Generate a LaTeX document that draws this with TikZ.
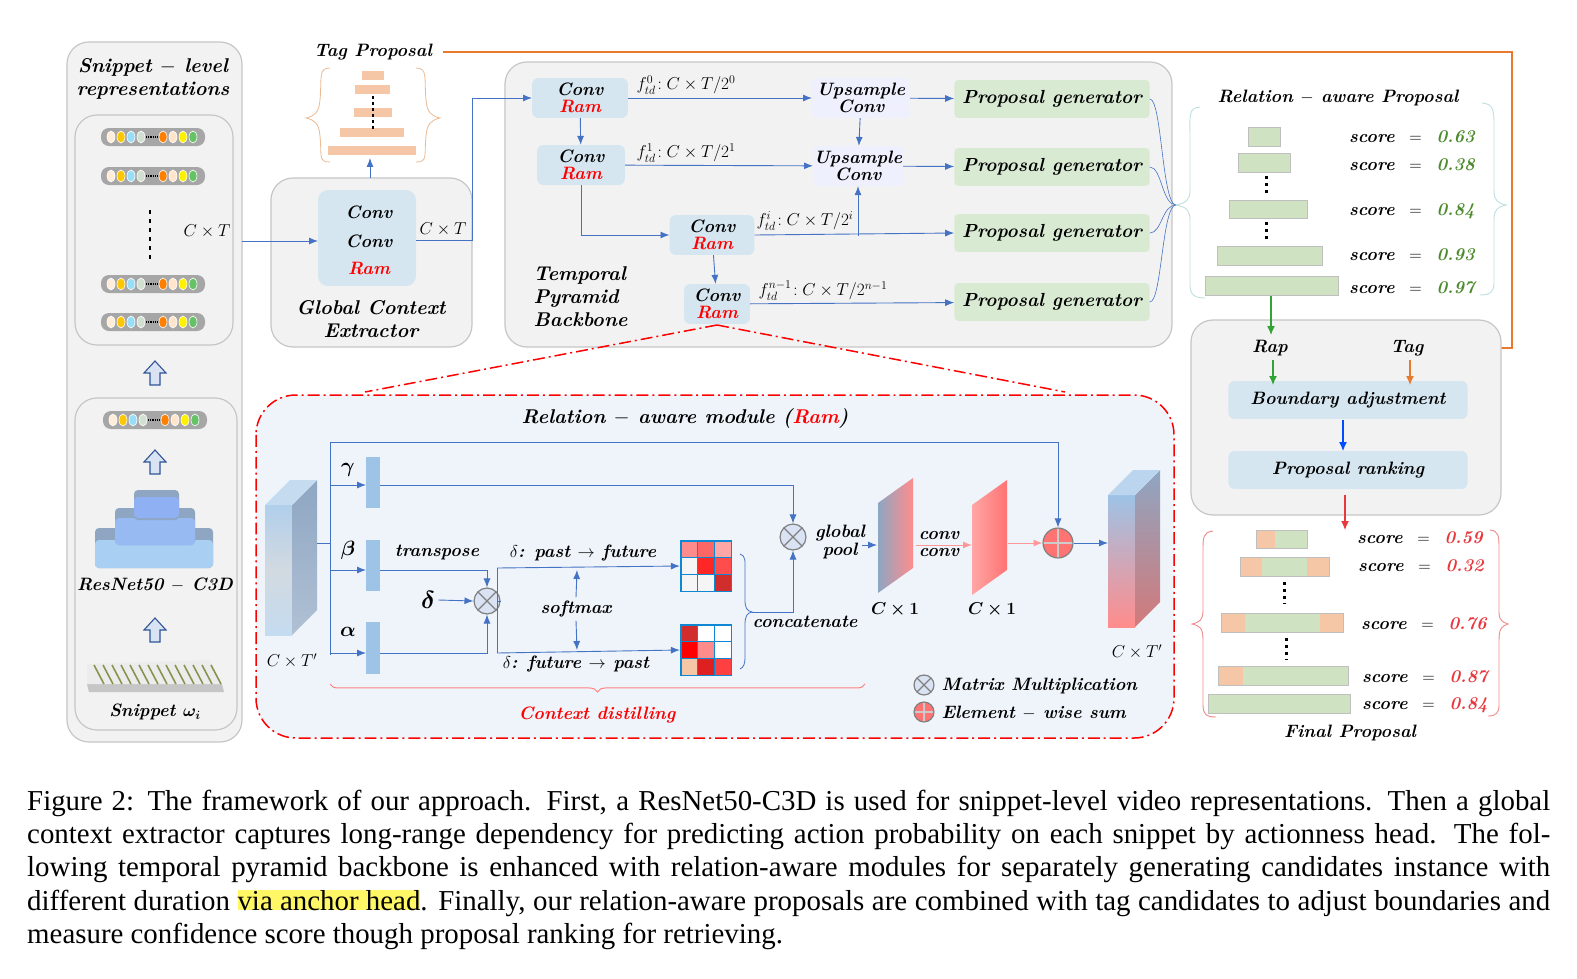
\documentclass[tikz,border=0pt]{standalone}
\usepackage{fontspec}
\usepackage{amsmath,bm}
\newfontfamily\capfont{Liberation Serif}
\usetikzlibrary{arrows.meta,decorations.pathreplacing,calc}
\definecolor{blk}{HTML}{D5E6F0}
\definecolor{pg}{HTML}{D9EAD3}
\definecolor{gbar}{HTML}{CFE3C2}
\definecolor{obar}{HTML}{F5C7A6}
\definecolor{ln}{HTML}{4472C4}
\definecolor{sgreen}{HTML}{4E8B2E}
\definecolor{sred}{HTML}{E8383D}
\definecolor{org}{HTML}{E87A2E}
\definecolor{panel}{HTML}{F2F2F2}
\definecolor{modbg}{HTML}{EEF4FA}
\definecolor{lbar}{HTML}{9DC3E6}
\definecolor{rn}{HTML}{A9CFF2}
\definecolor{rnd}{HTML}{8EA6C2}
\definecolor{harr}{HTML}{DAE3F3}
\definecolor{harrd}{HTML}{2F5597}
\tikzset{
 lbl/.style={font=\fontsize{20}{23}\selectfont\bfseries\itshape},
 sm/.style={font=\fontsize{18}{20}\selectfont\bfseries\itshape},
 panelbox/.style={draw=gray!45,line width=1.2,fill=panel,rounded corners=22},
 blkbox/.style={fill=blk,rounded corners=6},
 pgbox/.style={fill=pg,rounded corners=4,minimum width=196,minimum height=38,font=\fontsize{19}{21}\selectfont\bfseries\itshape},
 arr/.style={draw=ln,line width=0.9,-{Latex[length=9,width=7]}},
 ln/.style={draw=ln,line width=0.9},
 gbr/.style={fill=gbar,draw=gray!50,line width=0.4},
 obr/.style={fill=obar,draw=none},
 mth/.style={font=\fontsize{18}{20}\selectfont\itshape},
 otimes/.style={circle,draw=gray,line width=1.2,fill=harr,minimum size=26,inner sep=0,
   path picture={\draw[gray,line width=1.2] (path picture bounding box.north west)--(path picture bounding box.south east) (path picture bounding box.north east)--(path picture bounding box.south west);}},
 oplus/.style={circle,draw=gray,line width=1.2,fill=red!55,minimum size=30,inner sep=0,
   path picture={\draw[gray!40,line width=1.4] (path picture bounding box.north)--(path picture bounding box.south) (path picture bounding box.east)--(path picture bounding box.west);}},
}
\newcommand\featbar[2]{%
 \fill[gray!70,rounded corners=8] (#1-52,#2-9) rectangle (#1+52,#2+9);
 \foreach \xx/\cc in {-42/orange!15,-32/yellow!60!orange,-22/cyan!40,-12/green!20!gray!30,10/orange,20/orange!20,30/yellow,40/green!60!black!60}{\fill[\cc,draw=white,line width=0.6] (#1+\xx,#2) ellipse (4 and 6);}
 \draw[black,densely dotted,line width=1.2] (#1-7,#2)--(#1+5,#2);}
\newcommand\uparr[2]{\draw[fill=harr,draw=harrd,line width=1.1] (#1-5,#2+12)--(#1-5,#2)--(#1-11,#2)--(#1,#2-12)--(#1+11,#2)--(#1+5,#2)--(#1+5,#2+12)--cycle;}
\begin{document}
\begin{tikzpicture}[x=1bp,y=-1bp]
\useasboundingbox (0,0) rectangle (1577,978);
\fill[white] (0,0) rectangle (1577,978);

% ---------- left panel
\draw[panelbox] (67,42) rectangle (242,742);
\node[lbl,align=center] (snt) at (153,79) {Snippet $-$ level\\representations};
\draw[panelbox,fill=panel] (75,115) rectangle (233,345);
\featbar{153}{137}\featbar{153}{176}\featbar{153}{284}\featbar{153}{322}
\draw[black,line width=3,dash pattern=on 4 off 5] (150,210)--(150,260);
\node[mth] (ct1) at (207,231) {$C\times T$};
\uparr{155}{373}
\draw[panelbox,fill=panel] (75,398) rectangle (237,730);
\featbar{155}{420}
\uparr{155}{462}
\fill[rnd,rounded corners=4] (95,528) rectangle (213,568);
\fill[rn,rounded corners=4] (95,540) rectangle (213,568);
\fill[rnd,rounded corners=4] (115,508) rectangle (195,545);
\fill[rn!90!blue,rounded corners=4] (115,518) rectangle (195,545);
\fill[rnd,rounded corners=4] (134,490) rectangle (179,520);
\fill[rn!85!blue,rounded corners=4] (134,497) rectangle (179,518);
\node[sm] (res) at (155,585) {ResNet50 $-$ C3D};
\uparr{155}{630}
\fill[gray!45] (87,684)--(222,684)--(224,692)--(89,692)--cycle;
\fill[gray!15] (87,664)--(210,660)--(222,684)--(87,684)--cycle;
\foreach \i in {0,...,13}{\draw[green!25!brown!60!gray,line width=1.6] (94+\i*9,665)--(104+\i*9,684);}
\node[sm] (snp) at (155,712) {Snippet $\bm{\omega_i}$};

% ---------- global context extractor
\draw[panelbox] (271,178) rectangle (472,347);
\fill[blk,rounded corners=10] (318,190) rectangle (416,286);
\node[sm] (g1) at (369,212) {Conv};
\node[sm] (g2) at (369,241) {Conv};
\node[sm,text=red] (g3) at (369,268) {Ram};
\node[lbl,align=center] (gce) at (371,319) {Global Context\\Extractor};
\coordinate (gin) at (318,241);
\coordinate (lin) at (242,241);
\draw[arr] (lin)--(gin);
\node[mth] (ct2) at (443,229) {$C\times T$};

% ---------- tag proposal
\node[sm] (tagp) at (373,52) {Tag Proposal};
\foreach \a/\b/\yy in {362/384/71,354/392/108,340/404/128,328/416/146}{\fill[obar] (\a,\yy) rectangle (\b,\yy+9);}
\fill[obar] (355,85) rectangle (390,94);
\draw[black,line width=2,dash pattern=on 3 off 3] (373,96)--(373,130);
\draw[obar!80!brown,line width=0.8] (330,68) .. controls (318,68) and (322,78) .. (320,100) .. controls (319,112) and (315,116) .. (306,118) .. controls (315,120) and (319,124) .. (320,136) .. controls (322,156) and (318,162) .. (330,162);
\draw[obar!80!brown,line width=0.8] (416,68) .. controls (428,68) and (424,78) .. (426,100) .. controls (427,112) and (431,116) .. (440,118) .. controls (431,120) and (427,124) .. (426,136) .. controls (424,156) and (428,162) .. (416,162);
\coordinate (gtop) at (370,178);
\draw[arr] (gtop)--(370,158);
\coordinate (tgr) at (443,52);
\coordinate (tagin) at (1430,348);
\draw[org,line width=1.2,-{Latex[length=9,width=8]}] (tgr)--(1512,52)--(1512,348)--(tagin);

% ---------- temporal pyramid backbone
\draw[panelbox] (505,62) rectangle (1172,347);
\node[blkbox,minimum width=96,minimum height=40,align=center,sm,inner sep=0] (b1) at (580,98) {Conv\\[-3pt]\textcolor{red}{Ram}};
\node[blkbox,minimum width=88,minimum height=40,align=center,sm,inner sep=0] (b2) at (581,165) {Conv\\[-3pt]\textcolor{red}{Ram}};
\node[blkbox,minimum width=85,minimum height=40,align=center,sm,inner sep=0] (b3) at (712,235) {Conv\\[-3pt]\textcolor{red}{Ram}};
\node[blkbox,minimum width=66,minimum height=40,align=center,sm,inner sep=0] (b4) at (717,304) {Conv\\[-3pt]\textcolor{red}{Ram}};
\node[fill=blk!80!blue!20,rounded corners=4,minimum width=98,minimum height=40,align=center,sm,inner sep=0] (u1) at (861,98) {Upsample\\[-3pt]Conv};
\node[fill=blk!80!blue!20,rounded corners=4,minimum width=90,minimum height=40,align=center,sm,inner sep=0] (u2) at (858,166) {Upsample\\[-3pt]Conv};
\node[pgbox] (p1) at (1052,99) {Proposal generator};
\node[pgbox] (p2) at (1052,167) {Proposal generator};
\node[pgbox] (p3) at (1052,233) {Proposal generator};
\node[pgbox] (p4) at (1052,302) {Proposal generator};
\node[mth] (f0) at (686,85) {$f^{0}_{td}\!: C\times T/2^{0}$};
\node[mth] (f1) at (686,153) {$f^{1}_{td}\!: C\times T/2^{1}$};
\node[mth] (fi) at (805,221) {$f^{i}_{td}\!: C\times T/2^{i}$};
\node[mth] (fn) at (823,291) {$f^{n-1}_{td}\!: C\times T/2^{n-1}$};
\draw[arr] (416,240)--(472,240)--(472,98)--(b1.west);
\draw[arr] (b1)--(u1);
\draw[arr] (u1)--(p1);
\draw[arr] (b1)--(b2);
\draw[arr] (b2)--(u2);
\draw[arr] (u1)--(u2);
\draw[arr] (u2)--(p2);
\draw[arr] (b2.south)|-(b3.west);
\draw[arr] (b3.east)--(p3.west);
\draw[arr] (858,236)--(u2.south);
\draw[arr] (b3)--(b4);
\draw[arr] (b4)--(p4);
\node[lbl,align=left,anchor=west] (tpb) at (530,297) {Temporal\\Pyramid\\Backbone};
\coordinate (cj) at (1176,205);
\foreach \p in {p1,p2,p3,p4}{\draw[ln,line width=0.6] (\p.east) .. controls +(12,0) and (1162,205) .. (cj);}

% ---------- relation-aware proposal
\node[sm] (rap) at (1338,98) {Relation $-$ aware Proposal};
\draw[teal!25,line width=0.9] (1200,107) .. controls (1188,108) and (1190,115) .. (1190,140) -- (1190,190) .. controls (1190,200) and (1186,203) .. (1176,205) .. controls (1186,207) and (1190,210) .. (1190,220) -- (1190,285) .. controls (1190,295) and (1195,298) .. (1205,298);
\draw[teal!25,line width=0.9] (1482,103) .. controls (1494,104) and (1494,110) .. (1494,130) -- (1494,190) .. controls (1494,200) and (1497,203) .. (1506,205) .. controls (1497,207) and (1494,210) .. (1494,220) -- (1494,283) .. controls (1494,292) and (1490,295) .. (1480,295);
\draw[gbr] (1248,127) rectangle (1280,146) (1238,153) rectangle (1290,172) (1229,200) rectangle (1307,218) (1217,246) rectangle (1322,265) (1205,276) rectangle (1338,295);
\draw[black,line width=3,dash pattern=on 3 off 4] (1266,176)--(1266,194) (1266,222)--(1266,242);
\foreach \yy/\v in {137/0.63,165/0.38,211/0.84,255/0.93,288/0.97}{\node[sm] at (1412,\yy) {score\ \ $=$\ \ \textcolor{sgreen}{\v}};}

% ---------- refinement box
\draw[panelbox] (1191,320) rectangle (1501,515);
\coordinate (rapbot) at (1271,296);
\node[sm] (rapl) at (1270,348) {Rap};
\node[sm] (tagl) at (1407,348) {Tag};
\node[blkbox,minimum width=240,minimum height=38,sm] (ba) at (1348,400) {Boundary adjustment};
\node[blkbox,minimum width=240,minimum height=38,sm] (pr) at (1348,470) {Proposal ranking};
\draw[green!55!black!80,line width=1.2,-{Latex[length=9,width=8]}] (rapbot)--(1271,335);
\draw[green!55!black!80,line width=1.2,-{Latex[length=9,width=8]}] (1273,360)--(1273,385);
\draw[org,line width=1.2,-{Latex[length=9,width=8]}] (1410,360)--(1410,385);
\draw[blue!70!cyan,line width=1.2,-{Latex[length=9,width=8]}] (1343,420)--(1343,451);
\coordinate (prbot) at (1345,495);
\draw[sred,line width=1.2,-{Latex[length=9,width=8]}] (prbot)--(1345,530);

% ---------- final proposal
\draw[sred!60,line width=0.9] (1213,531) .. controls (1203,532) and (1203,538) .. (1203,550) -- (1203,610) .. controls (1203,620) and (1200,622) .. (1192,624) .. controls (1200,626) and (1203,628) .. (1203,640) -- (1203,705) .. controls (1203,714) and (1206,717) .. (1216,717);
\draw[sred!60,line width=0.9] (1490,530) .. controls (1499,531) and (1499,536) .. (1499,550) -- (1499,612) .. controls (1499,620) and (1502,622) .. (1508,624) .. controls (1502,626) and (1499,628) .. (1499,640) -- (1499,705) .. controls (1499,713) and (1496,716) .. (1488,716);
\fill[gbar] (1256,530) rectangle (1307,548); \fill[obr] (1256,530) rectangle (1275,548);
\fill[gbar] (1240,557) rectangle (1329,576); \fill[obr] (1240,557) rectangle (1262,576) (1307,557) rectangle (1329,576);
\fill[gbar] (1221,613) rectangle (1343,632); \fill[obr] (1221,613) rectangle (1245,632) (1320,613) rectangle (1343,632);
\fill[gbar] (1218,666) rectangle (1348,685); \fill[obr] (1218,666) rectangle (1243,685);
\fill[gbar] (1208,694) rectangle (1350,713);
\draw[gray!50,line width=0.4] (1256,530) rectangle (1307,548) (1240,557) rectangle (1329,576) (1221,613) rectangle (1343,632) (1218,666) rectangle (1348,685) (1208,694) rectangle (1350,713);
\draw[black,line width=3,dash pattern=on 3 off 4] (1284,582)--(1284,604) (1286,638)--(1286,660);
\foreach \xx/\yy/\v in {1420/538/0.59,1421/566/0.32,1424/624/0.76,1425/677/0.87,1425/705/0.84}{\node[sm] at (\xx,\yy) {score\ \ $=$\ \ \textcolor{sred}{\v}};}
\node[sm] (fp) at (1350,733) {Final Proposal};

% ---------- relation-aware module
\coordinate (ramtop) at (717,325);
\draw[red,line width=1.5,dash pattern=on 12 off 4 on 2 off 4] (ramtop)--(365,392) (ramtop)--(1065,392);
\draw[red,line width=1.5,dash pattern=on 12 off 4 on 2 off 4,fill=modbg,rounded corners=40] (256,395) rectangle (1174,738);
\node[lbl] (rtitle) at (685,419) {Relation $-$ aware module (\textcolor{red}{Ram})};
% input block
\shade[top color=lbar!80,bottom color=lbar!60,middle color=lbar!50!gray!40] (265,505) rectangle (292,635);
\shade[top color=rnd,bottom color=rnd!70] (292,505)--(317,480)--(317,610)--(292,635)--cycle;
\fill[lbar!60] (265,505)--(290,480)--(317,480)--(292,505)--cycle;
\node[mth] (inl) at (292,661) {$C\times T'$};
\coordinate (inr) at (317,543);
\draw[ln] (inr)--(330,543);
\draw[ln] (330,655)--(330,442)--(1058,442);
\fill[lbar] (366,457) rectangle (380,508);
\fill[lbar] (366,540) rectangle (380,591);
\fill[lbar] (366,622) rectangle (380,674);
\node[font=\fontsize{22}{24}\selectfont] (gam) at (348,470) {$\bm\gamma$};
\node[font=\fontsize{22}{24}\selectfont] (bet) at (348,550) {$\bm\beta$};
\node[font=\fontsize{22}{24}\selectfont] (alp) at (348,632) {$\bm\alpha$};
\draw[arr] (330,485)--(366,485);
\draw[arr] (330,570)--(366,570);
\draw[arr] (330,653)--(366,653);
\node[otimes] (mm1) at (487,601) {};
\node[otimes] (mm2) at (793,537) {};
\draw[arr] (380,485)--(793,485)--(mm2.north);
\draw[arr] (380,570)--(487,570)--(mm1.north);
\draw[arr] (380,653)--(487,653)--(mm1.south);
\node[sm] (tr) at (437,552) {transpose};
\node[font=\fontsize{24}{26}\selectfont] (del) at (428,600) {$\bm\delta$};
\draw[arr] (del.east)--(mm1.west);
\draw[ln] (mm1.east)--(497,601);
\draw[ln] (497,568)--(497,653);
\node[sm] (pf) at (583,553) {$\delta$: past $\rightarrow$ future};
\node[sm] (fpp) at (576,664) {$\delta$: future $\rightarrow$ past};
\node[sm] (smx) at (576,609) {softmax};
\draw[arr] (smx.north)--(577,570);
\draw[arr] (smx.south)--(577,650);
% matrices
\node[draw=cyan!70!blue,line width=1.5,minimum width=51,minimum height=51,inner sep=0] (m1) at (706,566) {};
\node[draw=cyan!70!blue,line width=1.5,minimum width=51,minimum height=51,inner sep=0] (m2) at (706,650) {};
\draw[arr] (497,568)--(m1.west);
\draw[arr] (497,653)--(m2.west);
\foreach \c [count=\k from 0] in {red!45,red!60,red!35,gray!8,red!85,red!70,gray!8,gray!8,red!65!gray}{
 \pgfmathtruncatemacro\cx{mod(\k,3)}\pgfmathtruncatemacro\cy{int(\k/3)}
 \fill[\c,draw=cyan!70!blue,line width=0.8] (681+\cx*16.7,541+\cy*16.7) rectangle ++(16.7,16.7);}
\foreach \c [count=\k from 0] in {red!65!gray,white,white,red,red!45,white,obar,red!75!gray,red!75}{
 \pgfmathtruncatemacro\cx{mod(\k,3)}\pgfmathtruncatemacro\cy{int(\k/3)}
 \fill[\c,draw=cyan!70!blue,line width=0.8] (681+\cx*16.7,625+\cy*16.7) rectangle ++(16.7,16.7);}
\draw[ln,line width=0.8] (740,554) .. controls (746,556) and (745,560) .. (745,575) -- (745,600) .. controls (745,608) and (747,611) .. (752,612) .. controls (747,613) and (745,616) .. (745,625) -- (745,656) .. controls (745,664) and (744,667) .. (740,669);
\draw[arr] (752,612)--(793,612)--(mm2.south);
\node[sm] (cat) at (805,622) {concatenate};
\node[sm,align=center] (gp) at (840,542) {global\\[-2pt]pool};
% slabs
\shade[left color=rnd,right color=red!45] (878,503)--(913,478)--(913,568)--(878,593)--cycle;
\node[sm] (c1) at (895,610) {$\bm{C\times 1}$};
\shade[left color=red!35,right color=red!55] (972,505)--(1007,480)--(1007,570)--(972,595)--cycle;
\node[sm] (c2) at (992,610) {$\bm{C\times 1}$};
\draw[arr] (862,545)--(877,545);
\node[sm,align=center] (cv) at (939,544) {conv\\[-2pt]conv};
\draw[red!40,line width=1,-{Latex[length=9,width=7]}] (916,545)--(972,545);
\node[oplus] (es) at (1058,543) {};
\draw[red!40,line width=1,-{Latex[length=9,width=7]}] (1008,543)--(es.west);
\draw[arr] (1058,442)--(es.north);
% output block
\shade[top color=lbar,bottom color=red!45] (1108,495) rectangle (1135,627);
\shade[top color=rnd,bottom color=red!50!gray!70] (1135,495)--(1160,470)--(1160,602)--(1135,627)--cycle;
\fill[lbar!70] (1108,495)--(1133,470)--(1160,470)--(1135,495)--cycle;
\node[mth] (outl) at (1137,652) {$C\times T'$};
\draw[arr] (es.east)--(1108,543);
\draw[red!50,line width=1,decorate,decoration={brace,mirror,amplitude=8}] (330,684)--(865,684);
\node[sm,text=red] (cd) at (597,715) {Context distilling};
\node[otimes,minimum size=20] (lg1) at (924,685) {};
\node[oplus,minimum size=20] (lg2) at (924,712) {};
\node[sm,anchor=west] (lt1) at (938,686) {Matrix Multiplication};
\node[sm,anchor=west] (lt2) at (938,713) {Element $-$ wise sum};

% ---------- caption
\node[anchor=north west,text width=1523bp,align=justify,inner sep=0,font=\capfont\fontsize{29}{33.3}\selectfont] (cap) at (27,790) {Figure 2: The framework of our approach. First, a ResNet50-C3D is used for snippet-level video representations. Then a global context extractor captures long-range dependency for predicting action probability on each snippet by actionness head. The fol\-lowing temporal pyramid backbone is enhanced with relation-aware modules for separately generating candidates instance with different duration {\fboxsep=0pt\colorbox{yellow!60}{via anchor head}}. Finally, our relation-aware proposals are combined with tag candidates to adjust boundaries and measure confidence score though proposal ranking for retrieving.};
\end{tikzpicture}
\end{document}
